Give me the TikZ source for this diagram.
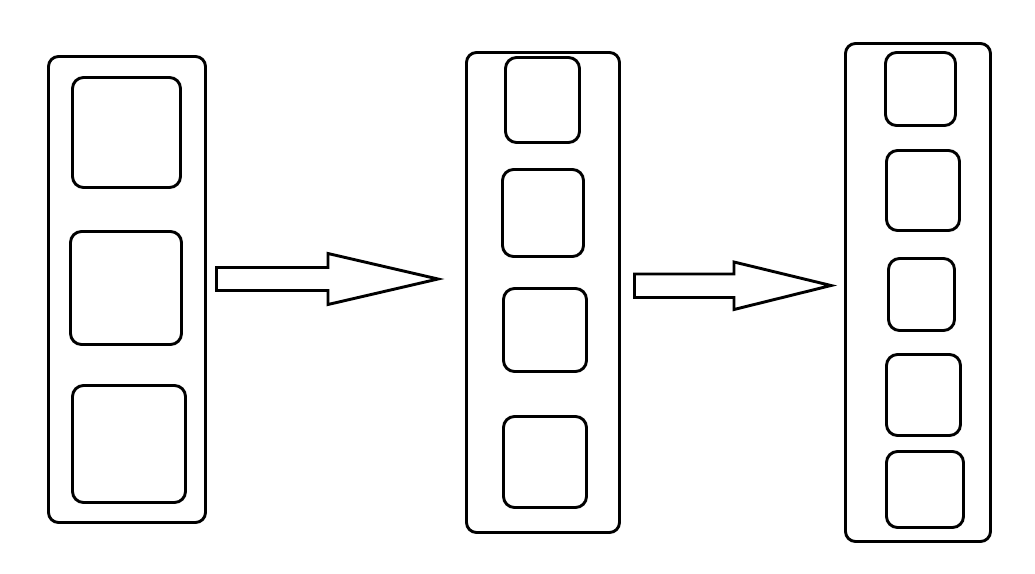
\documentclass[tikz,border=0pt]{standalone}
\begin{document}
\begin{tikzpicture}[x=1pt,y=-1pt,
  box/.style={draw=black,line width=2.9pt,rectangle,rounded corners=11pt,inner sep=0pt,fill=white},
  outerbox/.style={box,rounded corners=10pt},
  blockarrow/.style={draw=black,line width=2.9pt,line join=miter,fill=white}]
\useasboundingbox[fill=white] (0,0) rectangle (1035,573);
% column 1
\node[outerbox,minimum width=157pt,minimum height=466pt] (c1) at (127,289.5) {};
\node[box,minimum width=108pt,minimum height=110pt] (c1a) at (126.5,132.5) {};
\node[box,minimum width=111pt,minimum height=113pt] (c1b) at (126,288) {};
\node[box,minimum width=113pt,minimum height=117pt] (c1c) at (129,444) {};
% column 2
\node[outerbox,minimum width=153pt,minimum height=480pt] (c2) at (543,292.5) {};
\node[box,minimum width=74pt,minimum height=85pt] (c2a) at (542.5,100) {};
\node[box,minimum width=81pt,minimum height=87pt] (c2b) at (543,213) {};
\node[box,minimum width=83pt,minimum height=83pt] (c2c) at (545,330) {};
\node[box,minimum width=83pt,minimum height=91pt] (c2d) at (545,462) {};
% column 3
\node[outerbox,minimum width=145pt,minimum height=498pt] (c3) at (918,292.5) {};
\node[box,minimum width=70pt,minimum height=73pt] (c3a) at (920.5,89) {};
\node[box,minimum width=73pt,minimum height=80pt] (c3b) at (923,190.5) {};
\node[box,minimum width=66pt,minimum height=72pt] (c3c) at (921.5,294.5) {};
\node[box,minimum width=74pt,minimum height=81pt] (c3d) at (923.5,395) {};
\node[box,minimum width=77pt,minimum height=76pt] (c3e) at (925,489.5) {};
% arrows
\draw[blockarrow] (216.5,267.5) -- (328,267.5) -- (328,253.5) -- (438,279) -- (328,304.5) -- (328,290.5) -- (216.5,290.5) -- cycle;
\draw[blockarrow] (634.5,274) -- (734,274) -- (734,262) -- (831,285.5) -- (734,309.5) -- (734,297.5) -- (634.5,297.5) -- cycle;
\end{tikzpicture}
\end{document}
